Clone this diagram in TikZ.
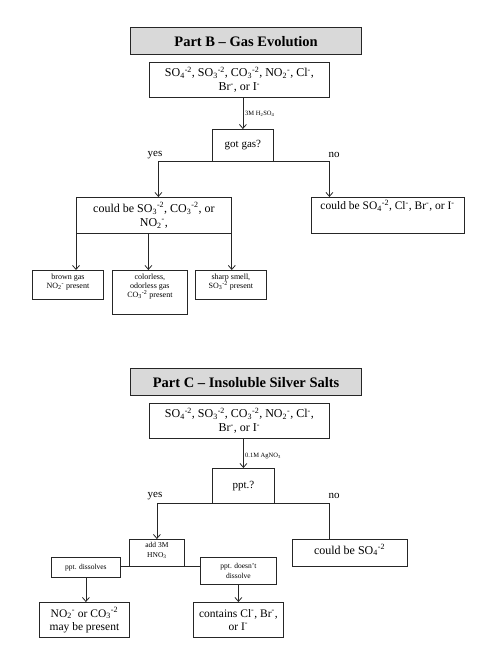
\documentclass[tikz,border=0pt]{standalone}
\usepackage{fontspec}
\setmainfont{Liberation Serif}
\usetikzlibrary{arrows.meta}
\newcommand{\subx}[1]{\textsubscript{#1}}
\newcommand{\supx}[1]{\textsuperscript{#1}}
\begin{document}
\begin{tikzpicture}[x=1pt,y=-1pt,
  ln/.style={draw=black!85, line width=0.8pt},
  bx/.style={ln, inner sep=0pt, anchor=north west, align=center},
  ttl/.style={bx, fill=black!15, line width=1.2pt, font=\fontsize{14.5}{17}\selectfont\bfseries},
  arr/.style={ln, -{Straight Barb[length=4pt,width=7pt]}},
  tx/.style={inner sep=0pt, align=center},
  fA/.style={font=\fontsize{12}{14}\selectfont},
  fB/.style={font=\fontsize{11}{13}\selectfont},
  fS/.style={font=\fontsize{8}{9}\selectfont},
  fT/.style={font=\fontsize{7.5}{10}\selectfont},
  fL/.style={font=\fontsize{6.5}{8}\selectfont}]
\useasboundingbox (0,0) rectangle (486,652);

% ---------------- Part B ----------------
\node[ttl, minimum width=231pt, minimum height=27pt] (titleB) at (130,27) {Part B -- Gas Evolution};
\node[bx, fA, minimum width=180pt, minimum height=35pt] (ionB) at (149,62)
  {SO\subx{4}\supx{-2}, SO\subx{3}\supx{-2}, CO\subx{3}\supx{-2}, NO\subx{2}\supx{-}, Cl\supx{-},\\ Br\supx{-}, or I\supx{-}};
\node[bx, fB, minimum width=61pt, minimum height=32pt] (gotgas) at (212,129) {got gas?};
\draw[arr] (gotgas.north |- ionB.south) -- (gotgas.north);
\node[tx, fL, anchor=west] (lblB) at (245,114) {3M H\subx{2}SO\subx{4}};

\node[tx, fB] (yesB) at (155,155) {yes};
\node[tx, fB] (noB) at (334,155) {no};

\node[bx, fA, minimum width=155pt, minimum height=36pt] (couldB) at (76,197)
  {could be SO\subx{3}\supx{-2}, CO\subx{3}\supx{-2}, or\\ NO\subx{2}\supx{-},};
\node[bx, minimum width=153pt, minimum height=36pt] (otherB) at (311,197) {};
\node[tx, font=\fontsize{11.5}{13}\selectfont, anchor=base] (otherBt) at (387.5,210)
  {could be SO\subx{4}\supx{-2}, Cl\supx{-}, Br\supx{-}, or I\supx{-}};

\draw[arr] (gotgas.south west) -| ([xshift=4.5pt]couldB.north);
\draw[arr] (gotgas.south east) -| ([xshift=-58.5pt]otherB.north);

\node[bx, minimum width=71pt, minimum height=29pt] (brown) at (32,270) {};
\node[bx, minimum width=75pt, minimum height=44pt] (colorless) at (112,270) {};
\node[bx, minimum width=71pt, minimum height=29pt] (sharp) at (195,270) {};
\node[tx, fS, anchor=north] (brownt) at ([yshift=-3.5pt]brown.north) {brown gas\\NO\subx{2}\supx{-} present};
\node[tx, fS, anchor=north] (colorlesst) at ([yshift=-3.5pt]colorless.north) {colorless,\\odorless gas\\CO\subx{3}\supx{-2} present};
\node[tx, fS, anchor=north] (sharpt) at ([yshift=-3.5pt]sharp.north) {sharp smell,\\SO\subx{3}\supx{-2} present};

\draw[arr] (couldB.south west) -- (couldB.south west |- brown.north);
\draw[arr] ([xshift=-5.5pt]couldB.south) -- ([xshift=-5.5pt]couldB.south |- colorless.north);
\draw[arr] (couldB.south east) -- (couldB.south east |- sharp.north);

% ---------------- Part C ----------------
\node[ttl, minimum width=231pt, minimum height=27pt] (titleC) at (130,368) {Part C -- Insoluble Silver Salts};
\node[bx, fA, minimum width=180pt, minimum height=35pt] (ionC) at (149,403)
  {SO\subx{4}\supx{-2}, SO\subx{3}\supx{-2}, CO\subx{3}\supx{-2}, NO\subx{2}\supx{-}, Cl\supx{-},\\ Br\supx{-}, or I\supx{-}};
\node[bx, fB, minimum width=62pt, minimum height=35pt] (ppt) at (212,468) {ppt.?};
\draw[arr] (ppt.north |- ionC.south) -- (ppt.north);
\node[tx, fL, anchor=west] (lblC) at (245,456) {0.1M AgNO\subx{3}};

\node[tx, fB] (yesC) at (155,496) {yes};
\node[tx, fB] (noC) at (334,496) {no};

\node[bx, minimum width=55pt, minimum height=27pt] (add) at (129,539) {};
\node[tx, fT, anchor=north] (addt) at ([yshift=-3.5pt]add.north) {add 3M\\HNO\subx{3}};
\node[bx, minimum width=115pt, minimum height=27pt] (sulf) at (292,539) {};
\node[tx, fA, anchor=base] (sulft) at (349.5,554) {could be SO\subx{4}\supx{-2}};

\draw[arr] (ppt.south west) -| (add.north);
\draw[ln] (ppt.south east) -| ([xshift=-20.5pt]sulf.north);

\node[bx, fT, minimum width=69pt, minimum height=20pt] (pptd) at (51,557) {ppt. dissolves};
\node[bx, fT, minimum width=76pt, minimum height=27pt] (pptn) at (200,557) {ppt. doesn’t\\dissolve};
\draw[ln] (add.south west) -- (add.south west -| pptd.east);
\draw[ln] (add.south east) -- (add.south east -| pptn.west);

\node[bx, font=\fontsize{11.5}{13}\selectfont, minimum width=90pt, minimum height=35pt] (mayb) at (39,602)
  {NO\subx{2}\supx{-} or CO\subx{3}\supx{-2}\\may be present};
\node[bx, font=\fontsize{11.5}{13}\selectfont, minimum width=90pt, minimum height=35pt] (cont) at (193,602)
  {contains Cl\supx{-}, Br\supx{-},\\or I\supx{-}};
\draw[arr] (pptd.south) -- (pptd.south |- mayb.north);
\draw[arr] (pptn.south) -- (pptn.south |- cont.north);
\end{tikzpicture}
\end{document}
